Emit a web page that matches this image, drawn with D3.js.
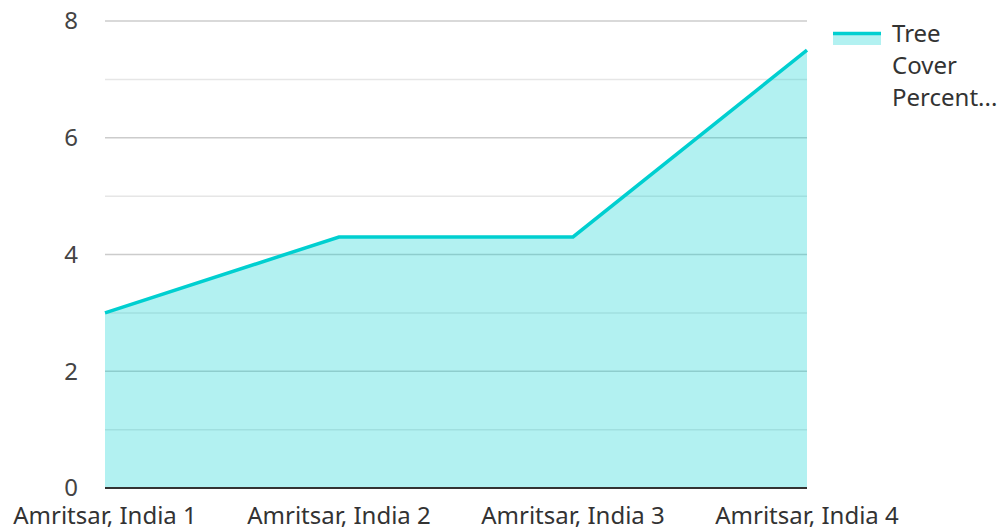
<!DOCTYPE html>
<meta charset="utf-8">
<script src="https://d3js.org/d3.v7.min.js"></script>
<style>
  body { margin: 0; background: #fff; }
  text { font-family: "Noto Sans", "Open Sans", sans-serif; }
</style>
<div id="my_dataviz"></div>
<script>

// data
var categories = ["Amritsar, India 1", "Amritsar, India 2", "Amritsar, India 3", "Amritsar, India 4"];
var treeCover = [3.0, 4.3, 4.3, 7.5];
var yTicks = [0, 2, 4, 6, 8];
var yMinorTicks = [1, 3, 5, 7];
var legendLines = ["Tree", "Cover", "Percent..."];

var lineColor = "#00cfd0";

var margin = {top: 21, right: 195, bottom: 43, left: 105},
    width = 1002 - margin.left - margin.right,
    height = 531 - margin.top - margin.bottom;

var svg = d3.select("#my_dataviz")
  .append("svg")
    .attr("width", 1002)
    .attr("height", 531)
  .append("g")
    .attr("transform", "translate(" + margin.left + "," + margin.top + ")");

var x = d3.scalePoint()
    .domain(categories)
    .range([0, width])
    .padding(0);

var y = d3.scaleLinear()
    .domain([0, 8])
    .range([height, 0]);

// grid lines
svg.selectAll(".minor")
  .data(yMinorTicks)
  .enter().append("line")
    .attr("x1", 0).attr("x2", width)
    .attr("y1", function(d) { return y(d); })
    .attr("y2", function(d) { return y(d); })
    .style("stroke", "#e6e6e6")
    .style("stroke-width", 1.5);

svg.selectAll(".major")
  .data(yTicks.filter(function(d) { return d > 0; }))
  .enter().append("line")
    .attr("x1", 0).attr("x2", width)
    .attr("y1", function(d) { return y(d); })
    .attr("y2", function(d) { return y(d); })
    .style("stroke", "#cccccc")
    .style("stroke-width", 1.5);

var data = categories.map(function(c, i) { return {cat: c, v: treeCover[i]}; });

// area
svg.append("path")
  .datum(data)
  .style("fill", lineColor)
  .style("fill-opacity", 0.3)
  .attr("d", d3.area()
    .x(function(d) { return x(d.cat); })
    .y0(y(0))
    .y1(function(d) { return y(d.v); }));

// line
svg.append("path")
  .datum(data)
  .style("fill", "none")
  .style("stroke", lineColor)
  .style("stroke-width", 3.5)
  .attr("d", d3.line()
    .x(function(d) { return x(d.cat); })
    .y(function(d) { return y(d.v); }));

// baseline
svg.append("line")
  .attr("x1", 0).attr("x2", width)
  .attr("y1", y(0)).attr("y2", y(0))
  .style("stroke", "#333")
  .style("stroke-width", 2);

// y axis labels
svg.selectAll(".ylab")
  .data(yTicks)
  .enter().append("text")
    .attr("x", -27)
    .attr("y", function(d) { return y(d); })
    .attr("dy", "0.35em")
    .attr("text-anchor", "end")
    .style("font-size", "24px")
    .style("fill", "#444")
    .text(function(d) { return d; });

// x axis labels
svg.selectAll(".xlab")
  .data(categories)
  .enter().append("text")
    .attr("x", function(d) { return x(d); })
    .attr("y", height + 36)
    .attr("text-anchor", "middle")
    .style("font-size", "24px")
    .style("fill", "#333")
    .text(function(d) { return d; });

// legend
var lg = svg.append("g")
  .attr("transform", "translate(" + (width + 26) + ",0)");

lg.append("rect")
  .attr("x", 0).attr("y", 12)
  .attr("width", 48).attr("height", 12)
  .style("fill", lineColor)
  .style("fill-opacity", 0.3);

lg.append("line")
  .attr("x1", 0).attr("x2", 48)
  .attr("y1", 12.5).attr("y2", 12.5)
  .style("stroke", lineColor)
  .style("stroke-width", 3.5);

lg.selectAll(".leg")
  .data(legendLines)
  .enter().append("text")
    .attr("x", 59)
    .attr("y", function(d, i) { return 13 + i * 32; })
    .attr("dy", "0.35em")
    .style("font-size", "24px")
    .style("fill", "#333")
    .text(function(d) { return d; });

</script>
